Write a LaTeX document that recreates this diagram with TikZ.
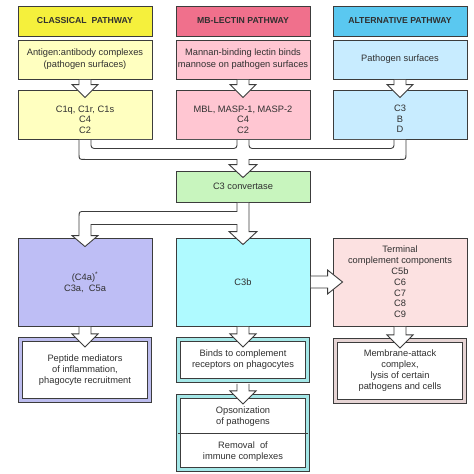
\documentclass[tikz,border=0pt]{standalone}
\usepackage{fontspec}
\setmainfont{Liberation Sans}
\usetikzlibrary{calc}
\definecolor{linec}{HTML}{3C3C3C}
\definecolor{textc}{HTML}{303030}
\definecolor{hyel}{HTML}{F5F03C}
\definecolor{pyel}{HTML}{FFFFC0}
\definecolor{hpink}{HTML}{F0708C}
\definecolor{ppink}{HTML}{FFC6D2}
\definecolor{hblue}{HTML}{5AC8F0}
\definecolor{pblue}{HTML}{C8ECFF}
\definecolor{pgreen}{HTML}{C8F5BE}
\definecolor{lav}{HTML}{BEBEF5}
\definecolor{cyanb}{HTML}{AFFAFF}
\definecolor{tpink}{HTML}{FCE1E1}
\definecolor{ringa}{HTML}{BCBCEE}
\definecolor{ringb}{HTML}{A4E8E8}
\definecolor{ringc}{HTML}{E6D4D4}
\tikzset{
  box/.style={draw=linec, line width=0.9pt, minimum width=134pt, inner sep=0pt,
    align=center, text=textc, font=\fontsize{9.3}{11}\selectfont},
  hdr/.style={box, minimum height=30pt, font=\fontsize{8.7}{10}\selectfont\bfseries},
  dbl/.style={draw=linec, double=#1, double distance=3pt, line width=0.8pt,
    minimum width=129.4pt, fill=white, inner sep=0pt, align=center, text=textc,
    font=\fontsize{9.3}{11}\selectfont},
  txt/.style={align=center, text=textc, inner sep=0pt, font=\fontsize{9.3}{11}\selectfont},
  arr/.style={draw=linec, line width=0.9pt, fill=white, line join=miter},
  arrline/.style={draw=linec, line width=0.9pt, rounded corners=3pt},
}
\newcommand\blockdown[3][0.45pt]{%
  \draw[arr] let \p1=(#2), \p2=(#3) in
    (\x1-6pt,\y1-#1) -- (\x1-6pt,\y2+5pt) -- (\x1-13pt,\y2+5pt) -- (\x1,\y2-8pt)
    -- (\x1+13pt,\y2+5pt) -- (\x1+6pt,\y2+5pt) -- (\x1+6pt,\y1-#1);}
\begin{document}
\begin{tikzpicture}[x=1pt,y=-1pt]
\useasboundingbox (0,0) rectangle (474,474);
\fill[white] (0,0) rectangle (474,474);
% headers
\node[hdr, fill=hyel] (h1) at (85,21) {CLASSICAL\ \ PATHWAY};
\node[hdr, fill=hpink] (h2) at (243,21) {MB-LECTIN PATHWAY};
\node[hdr, fill=hblue] (h3) at (400,21) {ALTERNATIVE PATHWAY};
% row 2
\node[box, fill=pyel, minimum height=39pt, font=\fontsize{9.3}{12}\selectfont] (r2a) at (85,59.5) {Antigen:antibody complexes\\(pathogen surfaces)};
\node[box, fill=ppink, minimum height=39pt, font=\fontsize{9.3}{12}\selectfont] (r2b) at (243,59.5) {Mannan-binding lectin binds\\mannose on pathogen surfaces};
\node[box, fill=pblue, minimum height=39pt] (r2c) at (400,59.5) {Pathogen surfaces};
% row 3
\node[box, fill=pyel, minimum height=49pt] (r3a) at (85,114.5) {};
\node[box, fill=ppink, minimum height=49pt] (r3b) at (243,114.5) {};
\node[box, fill=pblue, minimum height=49pt] (r3c) at (400,114.5) {};
\node[txt, font=\fontsize{9.3}{10.6}\selectfont] (r3at) at ($(r3a.center)+(0,5)$) {C1q, C1r, C1s\\C4\\C2};
\node[txt, font=\fontsize{9.3}{10.6}\selectfont] (r3bt) at ($(r3b.center)+(0,5)$) {MBL, MASP-1, MASP-2\\C4\\C2};
\node[txt, font=\fontsize{9.3}{10.6}\selectfont] (r3ct) at ($(r3c.center)+(0,4.5)$) {C3\\B\\D};
% convertase
\node[box, fill=pgreen, minimum height=31pt] (conv) at (243,186.5) {C3 convertase};
% row 4
\node[box, fill=lav, minimum height=88pt] (r4a) at (85,282) {(C4a)\textsuperscript{*}\\C3a, \ C5a};
\node[box, fill=cyanb, minimum height=88pt] (r4b) at (243,282) {C3b};
\node[box, fill=tpink, minimum height=88pt, font=\fontsize{9.3}{10.8}\selectfont] (r4c) at (400,282) {Terminal\\complement components\\C5b\\C6\\C7\\C8\\C9};
% row 5
\node[dbl=ringa, minimum height=61.4pt] (r5a) at (85,370) {Peptide mediators\\of inflammation,\\phagocyte recruitment};
\node[dbl=ringb, minimum height=41.4pt] (r5b) at (243,360) {Binds to complement\\receptors on phagocytes};
\node[dbl=ringc, minimum height=61.4pt] (r5c) at (400,371) {Membrane-attack\\complex,\\lysis of certain\\pathogens and cells};
% row 6
\node[dbl=ringb, minimum height=73.4pt] (r6) at (243,433) {};
\draw[draw=linec, line width=0.8pt] (r6.west) -- (r6.east);
\node[txt] (r6t) at ($(r6.center)+(0,-16.5)$) {Opsonization\\of pathogens};
\node[txt] (r6b) at ($(r6.center)+(0,19)$) {Removal \ of\\immune complexes};
% block arrows row2 -> row3
\blockdown{r2a.south}{r3a.north}
\blockdown{r2b.south}{r3b.north}
\blockdown{r2c.south}{r3c.north}
% merge pipe row3 -> convertase
\draw[arr] let \p1=(r3a.south), \p2=(r3b.south), \p3=(r3c.south), \p4=(conv.north) in
  (\x1-6pt,\y1-0.45pt) -- (\x1-6pt,\y1-14pt) .. controls (\x1-6pt,\y1-20pt) .. (\x1,\y1-20pt)
  -- (\x2-6pt,\y1-20pt) -- (\x2-6pt,\y4+6pt) -- (\x2-14pt,\y4+6pt) -- (\x2,\y4-7pt)
  -- (\x2+14pt,\y4+6pt) -- (\x2+6pt,\y4+6pt) -- (\x2+6pt,\y1-20pt) -- (\x3,\y1-20pt)
  .. controls (\x3+6pt,\y1-20pt) .. (\x3+6pt,\y1-14pt) -- (\x3+6pt,\y1-0.45pt);
\draw[arrline] let \p1=(r3a.south), \p2=(r3b.south) in
  (\x1+6pt,\y1-0.45pt) -- (\x1+6pt,\y1-9pt) -- (\x2-6pt,\y1-9pt) -- (\x2-6pt,\y1-0.45pt);
\draw[arrline] let \p2=(r3b.south), \p3=(r3c.south) in
  (\x2+6pt,\y2-0.45pt) -- (\x2+6pt,\y2-9pt) -- (\x3-6pt,\y2-9pt) -- (\x3-6pt,\y2-0.45pt);
% split pipe convertase -> row4
\draw[arr] let \p1=(conv.south), \p2=(r4a.north), \p3=(r4b.north) in
  (\x1+6pt,\y1-0.45pt) -- (\x1+6pt,\y3+6pt) -- (\x1+14pt,\y3+6pt) -- (\x1,\y3-7pt)
  -- (\x1-14pt,\y3+6pt) -- (\x1-6pt,\y3+6pt) -- (\x1-6pt,\y1-22pt) -- (\x2+6pt,\y1-22pt)
  -- (\x2+6pt,\y2+2pt) -- (\x2+13pt,\y2+2pt) -- (\x2,\y2-9pt) -- (\x2-13pt,\y2+2pt)
  -- (\x2-6pt,\y2+2pt) -- (\x2-6pt,\y1-15pt) .. controls (\x2-6pt,\y1-9pt) .. (\x2,\y1-9pt)
  -- (\x1-6pt,\y1-9pt) -- (\x1-6pt,\y1-0.45pt);
% C3b -> terminal
\draw[arr] let \p1=(r4b.east), \p2=(r4c.west) in
  (\x1+0.45pt,\y1+6pt) -- (\x2-5pt,\y1+6pt) -- (\x2-5pt,\y1+12pt) -- (\x2+10pt,\y1)
  -- (\x2-5pt,\y1-12pt) -- (\x2-5pt,\y1-6pt) -- (\x1+0.45pt,\y1-6pt);
% row4 -> row5, row5 -> row6
\blockdown{r4a.south}{r5a.north}
\blockdown{r4b.south}{r5b.north}
\blockdown{r4c.south}{r5c.north}
\blockdown[2.75pt]{r5b.south}{r6.north}
\end{tikzpicture}
\end{document}
